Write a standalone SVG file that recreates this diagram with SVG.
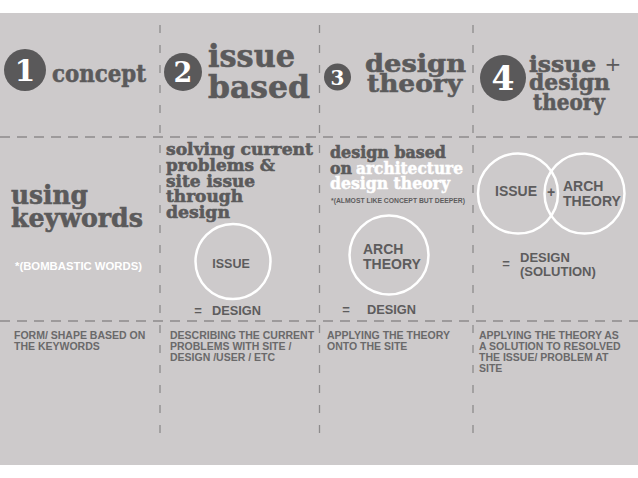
<svg xmlns="http://www.w3.org/2000/svg" width="638" height="478" viewBox="0 0 638 478">
<style>
.slab{font-family:"DejaVu Serif","Liberation Serif",serif;font-weight:bold;fill:#5b5a5b;stroke:#5b5a5b;stroke-width:0.6}
.wslab{font-family:"DejaVu Serif","Liberation Serif",serif;font-weight:bold;fill:#ffffff;stroke:#ffffff;stroke-width:0.5}
.sans{font-family:"Liberation Sans",Arial,sans-serif;font-weight:bold;fill:#5d5c5d}
.small{font-family:"Liberation Sans",Arial,sans-serif;font-weight:bold;fill:#6a696a;font-size:10.5px}
.num{font-family:"DejaVu Serif","Liberation Serif",serif;font-weight:bold;fill:#ffffff;text-anchor:middle}
.badge{fill:#5a595a}
.ring{fill:none;stroke:#ffffff;stroke-width:2.5}
.hd{stroke:#8d8b8c;stroke-width:1.3;stroke-dasharray:10 7;fill:none}
.vd{stroke:#8d8b8c;stroke-width:1.3;stroke-dasharray:8 12;fill:none}
</style>
<rect x="0" y="0" width="638" height="478" fill="#ffffff"/>
<rect x="0" y="13" width="638" height="452" fill="#cdcacb"/>
<g id="grid">
<line class="hd" x1="0" y1="137" x2="638" y2="137"/>
<line class="hd" x1="0" y1="321" x2="638" y2="321"/>
<line class="vd" x1="160" y1="25" x2="160" y2="433"/>
<line class="vd" x1="319.5" y1="25" x2="319.5" y2="433"/>
<line class="vd" x1="473" y1="25" x2="473" y2="433"/>
</g>
<g id="col1">
<circle class="badge" cx="25" cy="70" r="21"/>
<text class="num" x="25" y="81" font-size="30">1</text>
<text class="slab" x="52" y="82" font-size="25" textLength="94" lengthAdjust="spacingAndGlyphs">concept</text>
<text class="slab" x="11" y="204" font-size="26" textLength="77" lengthAdjust="spacingAndGlyphs">using</text>
<text class="slab" x="11" y="227" font-size="26" textLength="132" lengthAdjust="spacingAndGlyphs">keywords</text>
<text x="15" y="270" font-family="Liberation Sans,Arial,sans-serif" font-weight="bold" font-size="10" fill="#ffffff" textLength="127" lengthAdjust="spacingAndGlyphs">*(BOMBASTIC WORDS)</text>
<text class="small" x="14" y="339">FORM/ SHAPE BASED ON</text>
<text class="small" x="14" y="350">THE KEYWORDS</text>
</g>
<g id="col2">
<circle class="badge" cx="183" cy="72" r="19"/>
<text class="num" x="183" y="81.5" font-size="27">2</text>
<text class="slab" x="208" y="67" font-size="31" textLength="87" lengthAdjust="spacingAndGlyphs">issue</text>
<text class="slab" x="208" y="98" font-size="31" textLength="102" lengthAdjust="spacingAndGlyphs">based</text>
<text class="slab" x="166" y="155" font-size="17" textLength="147" lengthAdjust="spacingAndGlyphs">solving current</text>
<text class="slab" x="166" y="170.5" font-size="17" textLength="109" lengthAdjust="spacingAndGlyphs">problems &amp;</text>
<text class="slab" x="166" y="186.5" font-size="17" textLength="89" lengthAdjust="spacingAndGlyphs">site issue</text>
<text class="slab" x="166" y="202" font-size="17" textLength="77" lengthAdjust="spacingAndGlyphs">through</text>
<text class="slab" x="166" y="218" font-size="17" textLength="64" lengthAdjust="spacingAndGlyphs">design</text>
<circle class="ring" cx="233" cy="261.5" r="37.5"/>
<text class="sans" x="231" y="268" font-size="12.5" text-anchor="middle">ISSUE</text>
<text class="sans" x="198" y="315" font-size="13" text-anchor="middle">=</text>
<text class="sans" x="212" y="315" font-size="12.8">DESIGN</text>
<text class="small" x="170" y="339">DESCRIBING THE CURRENT</text>
<text class="small" x="170" y="350">PROBLEMS WITH SITE /</text>
<text class="small" x="170" y="361">DESIGN /USER / ETC</text>
</g>
<g id="col3">
<circle class="badge" cx="337.5" cy="77" r="13.5"/>
<text class="num" x="337.5" y="84.5" font-size="20">3</text>
<text class="slab" x="365" y="72" font-size="25" textLength="101" lengthAdjust="spacingAndGlyphs">design</text>
<text class="slab" x="367" y="92" font-size="25" textLength="95" lengthAdjust="spacingAndGlyphs">theory</text>
<text class="slab" x="330" y="158" font-size="16.5" textLength="116" lengthAdjust="spacingAndGlyphs">design based</text>
<text class="slab" x="330" y="173.5" font-size="16.5" textLength="22" lengthAdjust="spacingAndGlyphs">on</text>
<text class="wslab" x="356" y="173.5" font-size="16.5" textLength="107" lengthAdjust="spacingAndGlyphs">architecture</text>
<text class="wslab" x="330" y="189" font-size="16.5" textLength="120" lengthAdjust="spacingAndGlyphs">design theory</text>
<text x="331" y="203" font-family="Liberation Sans,Arial,sans-serif" font-weight="bold" font-size="6.5" fill="#5d5c5d" textLength="134" lengthAdjust="spacingAndGlyphs">*(ALMOST LIKE CONCEPT BUT DEEPER)</text>
<circle class="ring" cx="389" cy="255" r="39.5"/>
<text class="sans" x="363" y="254" font-size="14">ARCH</text>
<text class="sans" x="363" y="269" font-size="14">THEORY</text>
<text class="sans" x="346" y="314" font-size="13" text-anchor="middle">=</text>
<text class="sans" x="367" y="314" font-size="12.8">DESIGN</text>
<text class="small" x="327" y="339">APPLYING THE THEORY</text>
<text class="small" x="327" y="350">ONTO THE SITE</text>
</g>
<g id="col4">
<circle class="badge" cx="503" cy="78" r="23"/>
<text class="num" x="503" y="90" font-size="33">4</text>
<text class="slab" x="529" y="72" font-size="23" textLength="67" lengthAdjust="spacingAndGlyphs">issue</text>
<text x="613" y="71" font-family="DejaVu Sans,sans-serif" font-size="20" fill="#5b5a5b" text-anchor="middle">+</text>
<text class="slab" x="529" y="90" font-size="23" textLength="81" lengthAdjust="spacingAndGlyphs">design</text>
<text class="slab" x="533" y="110" font-size="23" textLength="72" lengthAdjust="spacingAndGlyphs">theory</text>
<circle class="ring" cx="518" cy="193.5" r="40"/>
<circle class="ring" cx="584.5" cy="193.5" r="40"/>
<text class="sans" x="495" y="196" font-size="14">ISSUE</text>
<text class="sans" x="551" y="197" font-size="14" text-anchor="middle">+</text>
<text class="sans" x="563" y="191" font-size="14">ARCH</text>
<text class="sans" x="563" y="205.5" font-size="14">THEORY</text>
<text class="sans" x="506" y="268" font-size="13" text-anchor="middle">=</text>
<text class="sans" x="520" y="262" font-size="13">DESIGN</text>
<text class="sans" x="520" y="275.5" font-size="13">(SOLUTION)</text>
<text class="small" x="479" y="339">APPLYING THE THEORY AS</text>
<text class="small" x="479" y="350">A SOLUTION TO RESOLVED</text>
<text class="small" x="479" y="361">THE ISSUE/ PROBLEM AT</text>
<text class="small" x="479" y="372">SITE</text>
</g>
</svg>
